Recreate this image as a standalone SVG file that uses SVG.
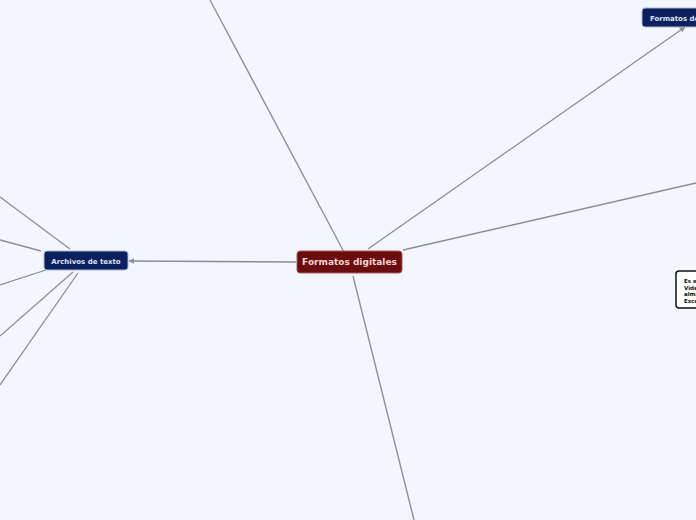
<svg xmlns="http://www.w3.org/2000/svg" width="696" height="520" viewBox="0 0 696 520">
<defs>
<marker id="arr" viewBox="0 0 10 10" refX="9" refY="5" markerWidth="6" markerHeight="6" orient="auto" markerUnits="userSpaceOnUse">
<path d="M0,0 L10,5 L0,10 z" fill="#8a8c96"/>
</marker>
<style>
.c{stroke:#8a8c96;stroke-width:1.3;fill:none}
.t{font-family:"DejaVu Sans",sans-serif;font-weight:bold;text-anchor:middle}
.blue{fill:#0c1f5e;stroke:#a9b6d4;stroke-width:1}
</style>
</defs>
<rect width="696" height="520" fill="#f3f6fe"/>
<g id="connectors">
<line class="c" x1="0" y1="197" x2="70" y2="249"/>
<line class="c" x1="0" y1="240" x2="41" y2="251"/>
<line class="c" x1="0" y1="285" x2="46" y2="270"/>
<line class="c" x1="0" y1="336" x2="73" y2="272"/>
<line class="c" x1="0" y1="385" x2="78" y2="273"/>
<line class="c" x1="296" y1="262" x2="129" y2="261" marker-end="url(#arr)"/>
<line class="c" x1="210" y1="0" x2="344" y2="252"/>
<line class="c" x1="368" y1="249" x2="685" y2="27" marker-end="url(#arr)"/>
<line class="c" x1="403" y1="250" x2="696" y2="183"/>
<line class="c" x1="353" y1="276" x2="414" y2="520"/>
</g>
<g id="formatos-digitales">
<rect x="297" y="251" width="105" height="22" rx="3" fill="#6b0d0e" stroke="#a85858" stroke-width="1"/>
<text class="t" x="349.5" y="265" font-size="9" fill="#f2d4d4">Formatos digitales</text>
</g>
<g id="archivos-de-texto">
<rect class="blue" x="44" y="251" width="84" height="19" rx="3"/>
<text class="t" x="86" y="263.5" font-size="7" fill="#dde4f4">Archivos de texto</text>
</g>
<g id="formatos-de">
<rect class="blue" x="642" y="8" width="62" height="19" rx="3"/>
<text x="650" y="20.5" font-family="DejaVu Sans,sans-serif" font-weight="bold" font-size="7" fill="#dde4f4">Formatos de</text>
</g>
<g id="nota">
<rect x="676" y="271" width="30" height="37" rx="3" fill="#ffffff" stroke="#111111" stroke-width="1.5"/>
<g font-family="DejaVu Sans,sans-serif" font-weight="bold" font-size="5.5" fill="#111111">
<text x="684" y="283">Es e</text>
<text x="684" y="289.5">Vide</text>
<text x="684" y="296">alma</text>
<text x="684" y="302.5">Exce</text>
</g>
</g>
</svg>
